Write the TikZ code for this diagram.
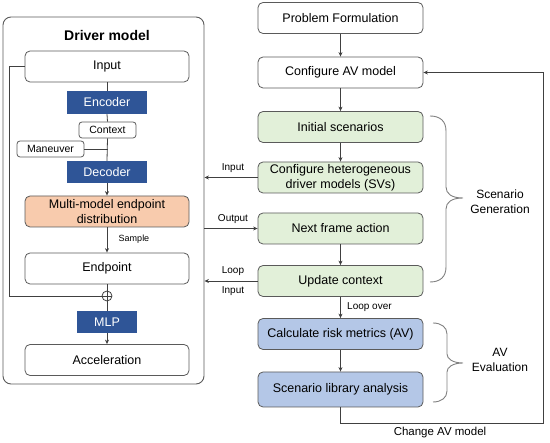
\documentclass[tikz,border=0pt]{standalone}
\usepackage{fontspec}
\setmainfont{Liberation Sans}
\usetikzlibrary{arrows.meta}
\definecolor{dblue}{HTML}{2F5597}
\definecolor{peach}{HTML}{F8CBAD}
\definecolor{lgreen}{HTML}{E2F0D9}
\definecolor{lblue}{HTML}{B4C7E7}
\definecolor{bord}{HTML}{5A5A5A}
\definecolor{lin}{HTML}{404040}
\tikzset{
  box/.style={draw=bord, line width=0.8pt, rounded corners=5pt, inner sep=0pt, align=center,
    font=\fontsize{12.5}{15}\selectfont},
  lbox/.style={box, minimum width=164pt, minimum height=31pt},
  rbox/.style={box, minimum width=165pt, minimum height=31pt},
  bluebox/.style={fill=dblue, text=white, inner sep=0pt, font=\fontsize{12.5}{15}\selectfont},
  sbox/.style={draw=bord, line width=0.8pt, rounded corners=3pt, inner sep=0pt, font=\fontsize{10.5}{12}\selectfont},
  lab/.style={font=\fontsize{10}{12}\selectfont, text=black, inner sep=0pt},
  conn/.style={draw=lin, line width=0.8pt},
  arr/.style={conn, -{Stealth[length=4.5pt,width=4pt]}},
  brace/.style={draw=gray, line width=0.9pt},
}
\begin{document}
\begin{tikzpicture}[x=1pt,y=-1pt]
\useasboundingbox (0,0) rectangle (550,443);
% Driver model frame
\node[draw=bord, line width=0.9pt, rounded corners=8pt, minimum width=201pt, minimum height=367pt, inner sep=0pt] (drv) at (103.5,200.5) {};
\node[font=\bfseries\fontsize{14}{16}\selectfont, inner sep=0pt] (title) at (107,36) {Driver model};
\node[lbox] (in) at (107,66.5) {Input};
\node[bluebox, minimum width=80pt, minimum height=23pt] (enc) at (107,102.5) {Encoder};
\node[sbox, minimum width=57pt, minimum height=16pt] (ctx) at (107.5,130) {Context};
\node[sbox, minimum width=67pt, minimum height=16pt] (man) at (50.5,149) {Maneuver};
\node[bluebox, minimum width=80pt, minimum height=22pt] (dec) at (107,172) {Decoder};
\node[lbox, fill=peach] (mm) at (107,211.5) {Multi-model endpoint\\distribution};
\node[lbox] (ep) at (107,268.5) {Endpoint};
\node[draw=lin, line width=0.8pt, circle, minimum size=10pt, inner sep=0pt] (op) at (107,296) {};
\draw[lin, line width=0.8pt] (op.north) -- (op.south) (op.west) -- (op.east);
\node[bluebox, minimum width=60pt, minimum height=22pt] (mlp) at (107,322) {MLP};
\node[lbox] (acc) at (107,360) {Acceleration};
\node[lab, font=\fontsize{9}{11}\selectfont] (smp) at (134,239) {Sample};
% driver connections
\draw[conn] (in.south) -- (enc.north);
\draw[conn] (enc.south) -- (ctx.north);
\draw[conn] (ctx.south) -- (dec.north);
\draw[conn] (man.east) -- (man.east -| ctx.south);
\draw[arr] (dec.south) -- (mm.north);
\draw[arr] (mm.south) -- (ep.north);
\draw[conn] (ep.south) -- (op.north);
\draw[conn] (op.south) -- (mlp.north);
\draw[arr] (mlp.south) -- (acc.north);
\coordinate (fb1) at (9,66.5);
\coordinate (fb2) at (9,296);
\draw[conn] (in.west) -- (fb1) -- (fb2) -- (op.west);
% Right column
\node[rbox] (pf) at (340.5,18) {Problem Formulation};
\node[rbox] (cav) at (340.5,72.5) {Configure AV model};
\node[rbox, fill=lgreen] (init) at (340.5,127) {Initial scenarios};
\node[rbox, fill=lgreen] (het) at (340.5,177.5) {Configure heterogeneous\\driver models (SVs)};
\node[rbox, fill=lgreen] (nxt) at (340.5,228.5) {Next frame action};
\node[rbox, fill=lgreen] (upd) at (340.5,281) {Update context};
\node[rbox, fill=lblue] (calc) at (340.5,334) {Calculate risk metrics (AV)};
\node[rbox, fill=lblue, minimum height=35pt] (lib) at (340.5,389.5) {Scenario library analysis};
\draw[arr] (pf.south) -- (cav.north);
\draw[arr] (cav.south) -- (init.north);
\draw[arr] (init.south) -- (het.north);
\draw[arr] (nxt.south) -- (upd.north);
\draw[arr] (upd.south) -- (calc.north);
\draw[arr] (calc.south) -- (lib.north);
% between columns
\draw[arr] (het.west) -- (het.west -| drv.east);
\draw[arr] (nxt.west -| drv.east) -- (nxt.west);
\draw[arr] (upd.west) -- (upd.west -| drv.east);
\node[lab] (lin1) at (233,168) {Input};
\node[lab] (lout) at (233,219) {Output};
\node[lab] (lloop) at (233,271) {Loop};
\node[lab] (lin2) at (233,291) {Input};
\node[lab, anchor=west] (lov) at (347,307) {Loop over};
% change AV loop
\coordinate (c1) at (340.5,423);
\coordinate (c2) at (543,423);
\coordinate (c3) at (543,72.5);
\draw[conn] (lib.south) -- (c1) -- (c2) -- (c3);
\draw[arr] (c3) -- (cav.east);
\node[lab, font=\fontsize{11.5}{14}\selectfont] (chg) at (440,433) {Change AV model};
% braces
\draw[brace] (430,116) .. controls (440,116) and (446,121) .. (446,131) -- (446,187)
  .. controls (446,194) and (452,198) .. (463,198)
  .. controls (452,198) and (446,202) .. (446,209) -- (446,267)
  .. controls (446,277) and (440,282) .. (430,282);
\draw[brace] (433,323) .. controls (441,323) and (447,327) .. (447,334) -- (447,354)
  .. controls (447,359) and (453,363) .. (463,363)
  .. controls (453,363) and (447,367) .. (447,372) -- (447,391)
  .. controls (447,398) and (441,402) .. (433,402);
\node[align=center, inner sep=0pt, font=\fontsize{12}{15}\selectfont] (sg) at (500,201.5) {Scenario\\Generation};
\node[align=center, inner sep=0pt, font=\fontsize{12}{15}\selectfont] (ave) at (500,360) {AV\\Evaluation};
\end{tikzpicture}
\end{document}
